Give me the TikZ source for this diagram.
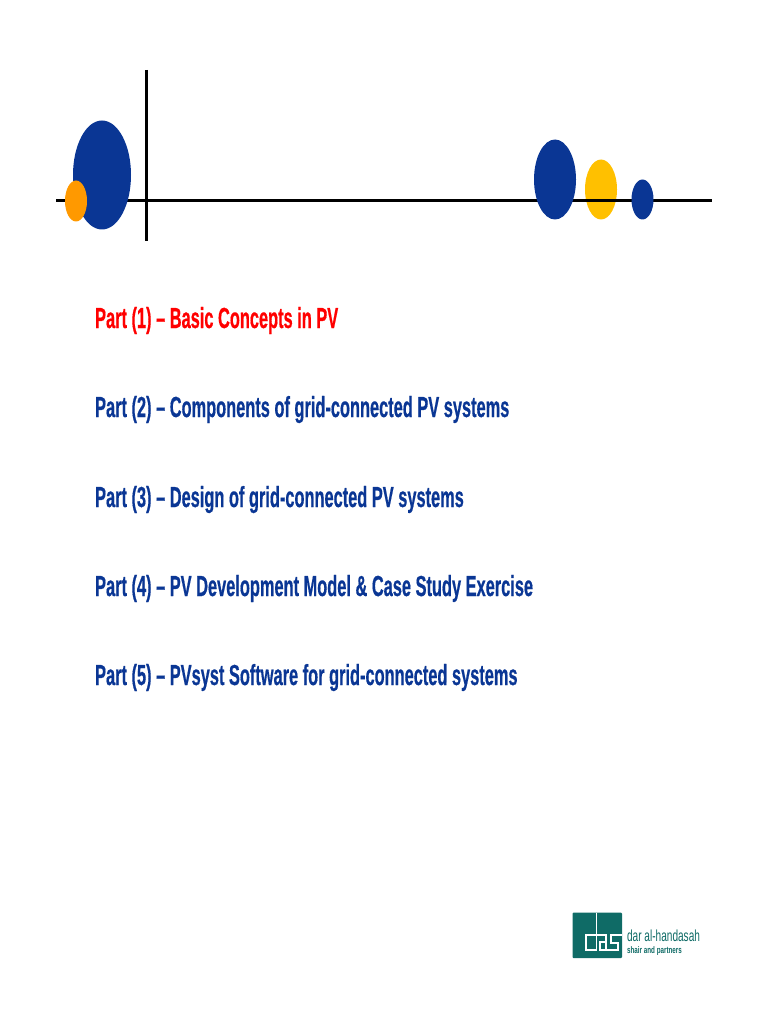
\documentclass[tikz,border=0pt]{standalone}
\usepackage{fontspec}
\setmainfont{Liberation Sans}
\newfontface\partface[FakeBold=0.7]{Liberation Sans Bold}
\usepackage{tikz}
\usetikzlibrary{shapes.geometric}
\definecolor{darkblue}{HTML}{0A3694}
\definecolor{sunorange}{HTML}{FF9900}
\definecolor{sunyellow}{HTML}{FFC000}
\definecolor{logoteal}{HTML}{0F6B66}
\tikzset{rule/.style={black,line width=3pt},
  blob/.style={ellipse,inner sep=0pt},
  partline/.style={anchor=base west,inner sep=0pt,font=\fontsize{29}{29}\partface,xscale=0.565,transform shape},
  logotext/.style={anchor=base west,inner sep=0pt,text=logoteal,transform shape},
  logocut/.style={white,line width=1.7pt}}

\begin{document}
\begin{tikzpicture}[x=1pt,y=-1pt]
  \useasboundingbox (0,0) rectangle (768,1024);
  \coordinate (hleft) at (56,200.4);
  \coordinate (hright) at (712,200.4);
  \coordinate (vtop) at (146.5,70);
  \coordinate (vbottom) at (146.5,241);
  \node[blob,fill=sunyellow,minimum width=32pt,minimum height=60pt] (blobtwo) at (601,189.5) {};
  \draw[rule] (hleft) -- (hright);
  \draw[rule] (vtop) -- (vbottom);
  \node[blob,fill=darkblue,minimum width=58pt,minimum height=109pt] (bigblob) at (102,175) {};
  \node[blob,fill=sunorange,minimum width=22pt,minimum height=41pt] (smallblob) at (76,201) {};
  \node[blob,fill=darkblue,minimum width=42pt,minimum height=80pt] (blobone) at (555,179.5) {};
  \node[blob,fill=darkblue,minimum width=22pt,minimum height=40pt] (blobthree) at (642.5,199.5) {};
  \node[partline,text=red] (partone) at (95,328) {Part (1) – Basic Concepts in PV};
  \node[partline,text=darkblue] (parttwo) at (95,417) {Part (2) – Components of grid-connected PV systems};
  \node[partline,text=darkblue] (partthree) at (95,507) {Part (3) – Design of grid-connected PV systems};
  \node[partline,text=darkblue] (partfour) at (95,596) {Part (4) – PV Development Model \& Case Study Exercise};
  \node[partline,text=darkblue] (partfive) at (95,685) {Part (5) – PVsyst Software for grid-connected systems};
  % logo
  \fill[logoteal,rounded corners=1pt] (572.5,912.5) rectangle (622,958);
  \draw[logocut] (596.5,912.5) -- (596.5,950);
  \draw[logocut] (586,935) rectangle (596.5,950);
  \draw[logocut] (596.5,935) -- (606,935) -- (606,950) -- (600,950) -- (600,942) -- (606,942);
  \draw[logocut] (622,935) -- (611,935) -- (611,943) -- (618,943) -- (618,950) -- (606,950);
  \node[logotext,font=\fontsize{16}{16}\selectfont,xscale=0.63] (logoname) at (627,941) {dar al-handasah};
  \node[logotext,font=\fontsize{9.5}{9.5}\selectfont\bfseries,xscale=0.66] (logosub) at (627,953) {shair and partners};
\end{tikzpicture}
\end{document}
